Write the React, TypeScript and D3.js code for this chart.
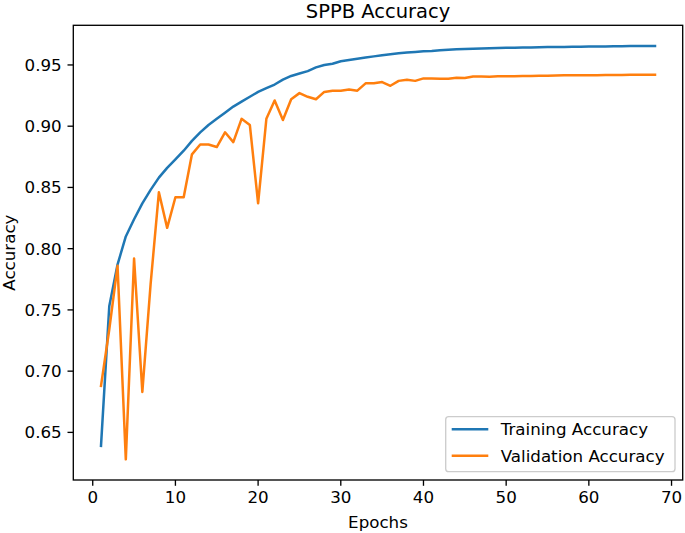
import * as d3 from 'd3';

// Per-epoch accuracy (epochs 1..68)
const trainingAcc = [
  0.639, 0.753, 0.787, 0.810, 0.824, 0.837, 0.848, 0.858, 0.866, 0.873,
  0.880, 0.888, 0.895, 0.901, 0.906, 0.911, 0.916, 0.920, 0.924, 0.928,
  0.931, 0.934, 0.938, 0.941, 0.943, 0.945, 0.948, 0.950, 0.951, 0.953,
  0.954, 0.955, 0.956, 0.957, 0.958, 0.9587, 0.9595, 0.9601, 0.9606, 0.9611,
  0.9614, 0.962, 0.9625, 0.9628, 0.963, 0.9632, 0.9634, 0.9636, 0.9638, 0.964,
  0.9641, 0.9642, 0.9643, 0.9645, 0.9646, 0.9647, 0.9647, 0.9649, 0.9649, 0.965,
  0.9651, 0.965, 0.9652, 0.9653, 0.9654, 0.9654, 0.9655, 0.9655,
];

const validationAcc = [
  0.688, 0.734, 0.786, 0.628, 0.792, 0.683, 0.771, 0.846, 0.817, 0.842,
  0.842, 0.877, 0.885, 0.885, 0.883, 0.895, 0.887, 0.906, 0.901, 0.837,
  0.906, 0.921, 0.905, 0.922, 0.927, 0.924, 0.922, 0.928, 0.929, 0.929,
  0.930, 0.929, 0.935, 0.935, 0.936, 0.933, 0.937, 0.938, 0.937, 0.939,
  0.939, 0.9388, 0.9388, 0.9395, 0.9393, 0.9405, 0.9405, 0.9403, 0.9407, 0.9408,
  0.9408, 0.941, 0.941, 0.9411, 0.9412, 0.9413, 0.9415, 0.9416, 0.9415, 0.9416,
  0.9416, 0.9417, 0.9418, 0.9418, 0.9419, 0.9419, 0.942, 0.942,
];

const xTicks = [0, 10, 20, 30, 40, 50, 60, 70];
const yTicks = [0.65, 0.7, 0.75, 0.8, 0.85, 0.9, 0.95];

const series = [
  { name: 'Training Accuracy', values: trainingAcc, color: '#1f77b4' },
  { name: 'Validation Accuracy', values: validationAcc, color: '#ff7f0e' },
];

const W = 685;
const H = 533;
const margin = { top: 25.3, right: 2.3, bottom: 53, left: 73.3 };
const font = '"DejaVu Sans", sans-serif';

export default function App() {
  const epochs = trainingAcc.map((_, i) => i + 1);
  const all = [...trainingAcc, ...validationAcc];

  // matplotlib-style 5% margins around the data extent
  const xMin = d3.min(epochs)!;
  const xMax = d3.max(epochs)!;
  const xPad = (xMax - xMin) * 0.05;
  const yMin = d3.min(all)!;
  const yMax = d3.max(all)!;
  const yPad = (yMax - yMin) * 0.05;

  const x = d3.scaleLinear()
    .domain([xMin - xPad, xMax + xPad])
    .range([margin.left, W - margin.right]);
  const y = d3.scaleLinear()
    .domain([yMin - yPad, yMax + yPad])
    .range([H - margin.bottom, margin.top]);

  const line = d3.line<number>()
    .x((_, i) => x(epochs[i]))
    .y(d => y(d));

  const left = margin.left;
  const right = W - margin.right;
  const top = margin.top;
  const bottom = H - margin.bottom;

  // legend box, lower right
  const lg = { x: 445.7, y: 416.7, w: 229.3, h: 55 };

  return (
    <div style={{ position: 'fixed', left: 0, top: 0 }}>
      <svg width={W} height={H} style={{ display: 'block', background: '#fff' }}>
        <text x={(left + right) / 2} y={17.5} textAnchor="middle"
          fontFamily={font} fontSize={19.5} fill="#000">SPPB Accuracy</text>

        {series.map(s => (
          <path key={s.name} d={line(s.values) ?? ''} fill="none"
            stroke={s.color} strokeWidth={2.5} strokeLinejoin="round" strokeLinecap="square" />
        ))}

        {/* spines */}
        <rect x={left} y={top} width={right - left} height={bottom - top}
          fill="none" stroke="#000" strokeWidth={1.33} />

        {/* x axis */}
        {xTicks.map(t => (
          <g key={t} transform={`translate(${x(t)},0)`}>
            <line y1={bottom} y2={bottom + 5.8} stroke="#000" strokeWidth={1.33} />
            <text y={bottom + 23} textAnchor="middle" fontFamily={font}
              fontSize={16.7} fill="#000">{t}</text>
          </g>
        ))}
        <text x={(left + right) / 2} y={528} textAnchor="middle"
          fontFamily={font} fontSize={16.7} fill="#000">Epochs</text>

        {/* y axis */}
        {yTicks.map(t => (
          <g key={t} transform={`translate(0,${y(t)})`}>
            <line x1={left} x2={left - 5.8} stroke="#000" strokeWidth={1.33} />
            <text x={left - 11.6} dy="0.36em" textAnchor="end" fontFamily={font}
              fontSize={16.7} fill="#000">{t.toFixed(2)}</text>
          </g>
        ))}
        <text transform={`translate(15,${(top + bottom) / 2}) rotate(-90)`}
          textAnchor="middle" fontFamily={font} fontSize={16.7} fill="#000">Accuracy</text>

        {/* legend */}
        <rect x={lg.x} y={lg.y} width={lg.w} height={lg.h} rx={3}
          fill="#fff" fillOpacity={0.8} stroke="#cccccc" strokeWidth={1.33} />
        {series.map((s, i) => {
          const ly = 429.3 + i * 26.4;
          return (
            <g key={s.name}>
              <line x1={451.7} x2={488.3} y1={ly} y2={ly} stroke={s.color} strokeWidth={2.5} />
              <text x={500.7} y={ly} dy="0.36em" fontFamily={font} fontSize={16.7}
                fill="#000">{s.name}</text>
            </g>
          );
        })}
      </svg>
    </div>
  );
}
